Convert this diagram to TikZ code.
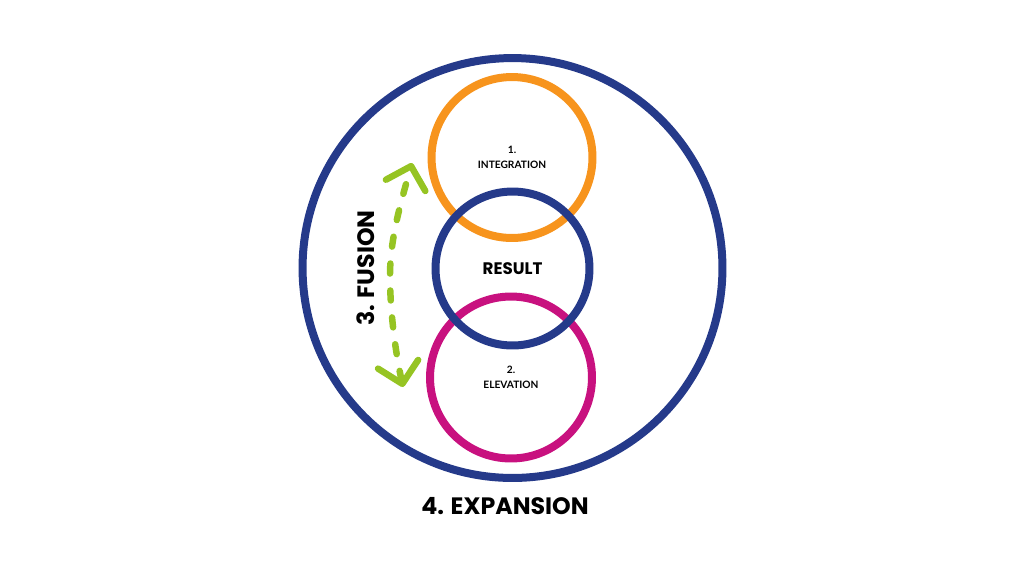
\documentclass[tikz,border=0pt]{standalone}
\usepackage{fontspec}
\usetikzlibrary{arrows.meta}
\newfontfamily\headfont{Poppins}
\newfontfamily\stepfont{Lato}
\definecolor{navy}{HTML}{253A8A}
\definecolor{amber}{HTML}{F7941D}
\definecolor{plum}{HTML}{C8117F}
\definecolor{lime}{HTML}{96C423}

\begin{document}
\begin{tikzpicture}[x=0.02cm,y=-0.02cm,
  ring/.style={circle,draw,line width=0.16cm,inner sep=0pt,align=center},
  steptext/.style={font=\stepfont\bfseries\fontsize{5.8}{7.5}\selectfont},
  headtext/.style={font=\headfont\bfseries\fontsize{13.5}{16}\selectfont},
  fusebarb/.tip={Straight Barb[length=0.4cm,width=0.82cm,round]}]
\useasboundingbox (0,0) rectangle (1024,576);
% outer ring
\node[ring,navy,minimum size=8.4cm] (expansion) at (512.5,268) {};
\node[headtext] (expansionlbl) at (505,506) {4. EXPANSION};
% inner rings, result on top
\node[ring,amber,minimum size=3.22cm,steptext,text=black] (integration) at (512,157.5) {1.\\[1pt]INTEGRATION};
\node[ring,plum,minimum size=3.24cm,steptext,text=black] (elevation) at (511,377.5) {2.\\[1pt]ELEVATION};
\node[ring,navy,minimum size=3.08cm,text=black,font=\headfont\bfseries\fontsize{9.5}{11}\selectfont] (result) at (512.5,268.5) {RESULT};
% fusion arrow
\node[headtext,rotate=90] (fusion) at (366,268) {3. FUSION};
\coordinate (fusebot) at (403,387);
\coordinate (fusemid) at (390,276);
\coordinate (fusetop) at (412,163);
\draw[lime,line width=0.13cm,line cap=round,dash pattern=on 0.2cm off 0.34cm,fusebarb-fusebarb]
  (fusebot) .. controls (395,350) and (390,310) .. (fusemid)
  .. controls (390,240) and (400,205) .. (fusetop);
\end{tikzpicture}
\end{document}
